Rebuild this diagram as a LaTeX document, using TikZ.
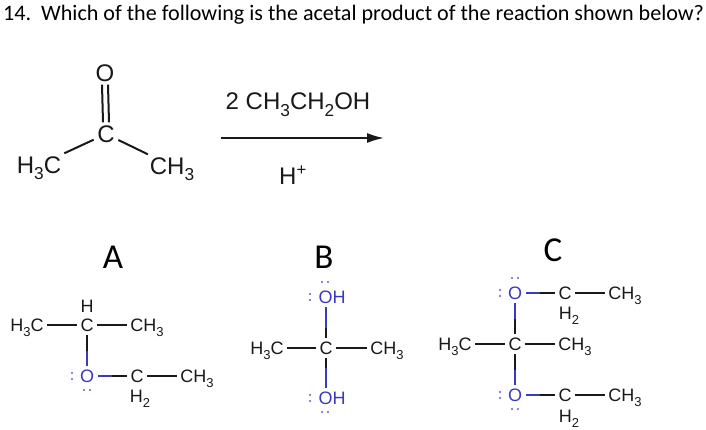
\documentclass[tikz,border=0pt]{standalone}
\usepackage{fontspec}
\setmainfont{Liberation Sans}
\newfontfamily\titlefont{Carlito}
\usetikzlibrary{arrows.meta, positioning, calc}
\definecolor{oxblue}{RGB}{58,58,190}
\definecolor{inkblack}{RGB}{25,25,25}
\newcommand{\sbn}[1]{\raisebox{-.28em}{\scalebox{.72}{#1}}}
\newcommand{\halfbond}[2]{%
  \draw[bond] (#1) -- ($(#1)!.5!(#2)$);
  \draw[bond, oxblue] ($(#1)!.5!(#2)$) -- (#2);}
\newcommand{\pairleft}[1]{%
  \fill[pairdot] ([shift={(-15,-3)}]#1.center) circle (1.1);
  \fill[pairdot] ([shift={(-15,3)}]#1.center) circle (1.1);}
\newcommand{\pairup}[1]{%
  \fill[pairdot] ([shift={(-3,-15)}]#1.center) circle (1.1);
  \fill[pairdot] ([shift={(3,-15)}]#1.center) circle (1.1);}
\newcommand{\pairdown}[1]{%
  \fill[pairdot] ([shift={(-3,14)}]#1.center) circle (1.1);
  \fill[pairdot] ([shift={(3,14)}]#1.center) circle (1.1);}
\tikzset{
  atom/.style={inner xsep=3.5pt, inner ysep=4pt, text=inkblack, text height=12pt, text depth=0pt, font=\fontsize{18}{18}\selectfont},
  oxy/.style={atom, text=oxblue},
  bigatom/.style={inner sep=3.5pt, text=inkblack, text height=16pt, text depth=0pt, font=\fontsize{24}{24}\selectfont},
  reagent/.style={text=inkblack, font=\fontsize{24}{24}\selectfont},
  letter/.style={text=black, font=\titlefont\fontsize{35}{35}\selectfont},
  bond/.style={line width=1.7pt, inkblack},
  bigbond/.style={line width=2pt, inkblack},
  pairdot/.style={oxblue!80}
}
\begin{document}
\begin{tikzpicture}[x=1pt, y=-1pt]
\useasboundingbox (0,0) rectangle (706,429);
\fill[white] (0,0) rectangle (706,429);
% Question
\node[anchor=west, inner sep=0pt, font=\titlefont\fontsize{22.1}{22.1}\selectfont] (question) at (3,15)
  {14.\ \ Which of the following is the acetal product of the reaction shown below?};

% Acetone
\node[bigatom] (topO) at (105,73) {O};
\node[bigatom] (topC) at (106,134) {C};
\node[bigatom] (topL) at (39,165) {H\sbn{3}C};
\node[bigatom] (topR) at (172,166) {CH\sbn{3}};
\draw[bigbond] ([xshift=-3]topC.north) -- ([xshift=-3]topO.south);
\draw[bigbond] ([xshift=3]topC.north) -- ([xshift=3]topO.south);
\draw[bigbond] (topC) -- (topL);
\draw[bigbond] (topC) -- (topR);

% Reaction arrow
\coordinate (arrowStart) at (221,138);
\coordinate (arrowEnd) at (384,138);
\draw[bond, -{Latex[length=17pt, width=10pt]}] (arrowStart) -- (arrowEnd);
\node[reagent] (ethanol) at (298,105) {2 CH\sbn{3}CH\sbn{2}OH};
\node[reagent] (proton) at (293,175) {H\textsuperscript{+}};

% Letters
\node[letter] (labelA) at (113,257) {A};
\node[letter] (labelB) at (324,257) {B};
\node[letter] (labelC) at (553,250) {C};

% Choice A
\node[atom] (aH) at (87,306) {H};
\node[atom] (aC) at (87,325) {C};
\node[atom] (aL) at (27,325) {H\sbn{3}C};
\node[atom] (aR) at (147,325) {CH\sbn{3}};
\node[oxy] (aO) at (87,376) {O};
\node[atom] (aC2) at (137,376) {C};
\node[atom] (aH2) at (140,396) {H\sbn{2}};
\node[atom] (aR2) at (197,376) {CH\sbn{3}};
\draw[bond] (aL) -- (aC);
\draw[bond] (aC) -- (aR);
\draw[bond] (aC2) -- (aR2);
\halfbond{aC}{aO}
\halfbond{aC2}{aO}
\pairleft{aO}
\pairdown{aO}

% Choice B
\node[oxy, anchor=center] (bTop) at (332,297) {OH};
\node[atom] (bC) at (326,348) {C};
\node[atom] (bL) at (267,348) {H\sbn{3}C};
\node[atom] (bR) at (387,348) {CH\sbn{3}};
\node[oxy] (bBot) at (332,398) {OH};
\coordinate (bTopO) at (325,297);
\coordinate (bBotO) at (325,398);
\draw[bond] (bL) -- (bC);
\draw[bond] (bC) -- (bR);
\halfbond{bC}{bC |- bTop.south}
\halfbond{bC}{bC |- bBot.north}
\pairleft{bTopO}
\pairup{bTopO}
\pairleft{bBotO}
\pairdown{bBotO}

% Choice C
\node[oxy] (cO) at (515,293) {O};
\node[atom] (cC) at (565,293) {C};
\node[atom] (cR) at (625,293) {CH\sbn{3}};
\node[atom] (cH) at (569,313) {H\sbn{2}};
\node[atom] (cM) at (515,344) {C};
\node[atom] (cL) at (455,344) {H\sbn{3}C};
\node[atom] (cMR) at (575,344) {CH\sbn{3}};
\node[oxy] (cO2) at (515,395) {O};
\node[atom] (cC2) at (565,395) {C};
\node[atom] (cR2) at (625,395) {CH\sbn{3}};
\node[atom] (cH2) at (569,416) {H\sbn{2}};
\draw[bond] (cC) -- (cR);
\draw[bond] (cL) -- (cM);
\draw[bond] (cM) -- (cMR);
\draw[bond] (cC2) -- (cR2);
\halfbond{cM}{cO}
\halfbond{cM}{cO2}
\halfbond{cC}{cO}
\halfbond{cC2}{cO2}
\pairleft{cO}
\pairup{cO}
\pairleft{cO2}
\pairdown{cO2}
\end{tikzpicture}
\end{document}
